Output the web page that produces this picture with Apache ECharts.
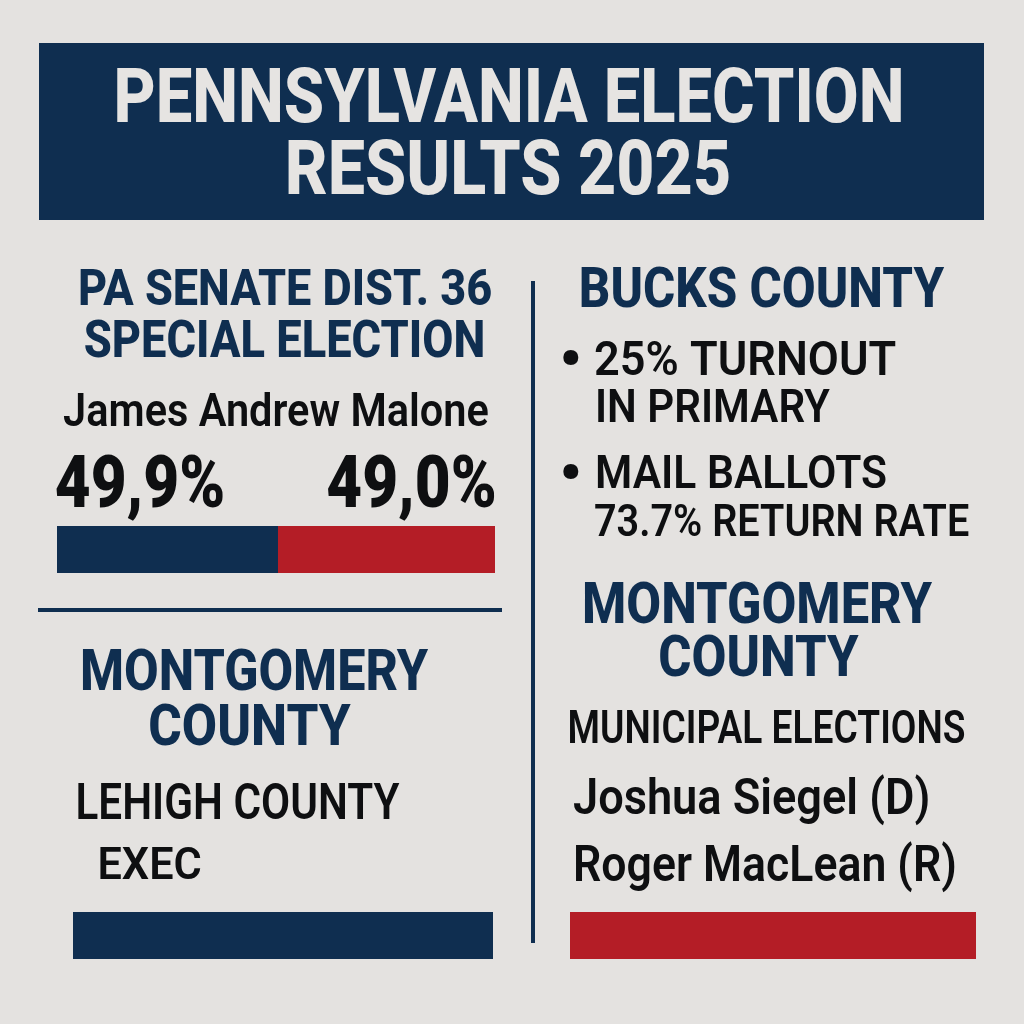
<!DOCTYPE html>
<html>
<head>
<meta charset="utf-8">
<title>Pennsylvania Election Results 2025</title>
<style>
html, body { margin: 0; padding: 0; background: #e4e2e0; }
#main { width: 1024px; height: 1024px; }
</style>
<script src="https://cdn.jsdelivr.net/npm/echarts@6/dist/echarts.min.js"></script>
</head>
<body>
<div id="main"></div>
<script>
var navy = '#0f2e50';
var red = '#b41d26';
var ink = '#0e0f11';
var paper = '#e6e4e2';
var FONT = 'Roboto';

// senate race split
var senateCandidates = ['Malone', 'Opponent'];
var senateValues = [49.9, 49.0];
var senateLabels = ['49,9%', '49,0%'];
// the two solid bars at the bottom
var lehighValue = [100];
var municipalValue = [100];

var titleLines = ['PENNSYLVANIA ELECTION', 'RESULTS 2025'];
var senateHead = ['PA SENATE DIST. 36', 'SPECIAL ELECTION'];
var countyHead = ['MONTGOMERY', 'COUNTY'];
var bucksHead = 'BUCKS COUNTY';
var bucksLines = ['25% TURNOUT', 'IN PRIMARY', 'MAIL BALLOTS', '73.7% RETURN RATE'];
var lehighLines = ['LEHIGH COUNTY', 'EXEC'];
var municipalHead = 'MUNICIPAL ELECTIONS';
var municipalNames = ['Joshua Siegel (D)', 'Roger MacLean (R)'];

// y is the middle of the capitals, sx squeezes the text to the narrower look of the original
function txt(str, x, y, size, sx, color, align, weight) {
    return {
        type: 'text',
        x: x,
        y: y + size * 0.09,
        scaleX: sx,
        z: 10,
        style: {
            text: str,
            fill: color,
            font: (weight || 800) + ' ' + size + 'px ' + FONT,
            textAlign: align || 'left',
            textVerticalAlign: 'middle'
        }
    };
}

function box(x, y, w, h, color) {
    return { type: 'rect', shape: { x: x, y: y, width: w, height: h }, style: { fill: color }, z: 1 };
}

var chartDom = document.getElementById('main');
var myChart = echarts.init(chartDom);
var option;

function barAxis(i, max) {
    return {
        gridIndex: i, type: 'value', min: 0, max: max,
        show: false, splitLine: { show: false }
    };
}
function catAxis(i) {
    return { gridIndex: i, type: 'category', data: ['share'], show: false };
}

option = {
    animation: false,
    backgroundColor: '#e4e2e0',
    grid: [
        { left: 57, top: 526, width: 438, height: 47 },
        { left: 73, top: 912, width: 420, height: 47 },
        { left: 570, top: 912, width: 406, height: 47 }
    ],
    xAxis: [barAxis(0, senateValues[0] + senateValues[1]), barAxis(1, 100), barAxis(2, 100)],
    yAxis: [catAxis(0), catAxis(1), catAxis(2)],
    series: [
        { name: senateCandidates[0], type: 'bar', stack: 'senate', barWidth: '100%', xAxisIndex: 0, yAxisIndex: 0, itemStyle: { color: navy }, data: [senateValues[0]] },
        { name: senateCandidates[1], type: 'bar', stack: 'senate', barWidth: '100%', xAxisIndex: 0, yAxisIndex: 0, itemStyle: { color: red }, data: [senateValues[1]] },
        { name: 'Lehigh County Exec', type: 'bar', barWidth: '100%', xAxisIndex: 1, yAxisIndex: 1, itemStyle: { color: navy }, data: lehighValue },
        { name: 'Municipal Elections', type: 'bar', barWidth: '100%', xAxisIndex: 2, yAxisIndex: 2, itemStyle: { color: red }, data: municipalValue }
    ],
    graphic: [
        box(39, 43, 945, 177, navy),
        box(38, 608, 464, 4, navy),
        box(531, 281, 4, 662, navy),
        txt(titleLines[0], 509, 96, 76, 0.856, paper, 'center'),
        txt(titleLines[1], 508, 168, 76, 0.874, paper, 'center'),
        txt(senateHead[0], 285, 288, 50, 0.90, navy, 'center'),
        txt(senateHead[1], 284.5, 340, 51, 0.887, navy, 'center'),
        txt('James Andrew Malone', 276, 410, 46, 0.903, ink, 'center', 600),
        txt(senateLabels[0], 140, 483, 72, 0.86, ink, 'center', 900),
        txt(senateLabels[1], 411.5, 483, 72, 0.86, ink, 'center', 900),
        txt(countyHead[0], 254, 670, 58, 0.867, navy, 'center'),
        txt(countyHead[1], 249.5, 725, 58, 0.883, navy, 'center'),
        txt(lehighLines[0], 75.5, 802, 50, 0.845, ink, 'left', 600),
        txt(lehighLines[1], 97.5, 864, 45, 0.96, ink, 'left', 600),
        txt(bucksHead, 761.5, 288, 55, 0.895, navy, 'center'),
        txt('•', 570.5, 359, 62, 1, ink, 'center'),
        txt(bucksLines[0], 594, 358, 49, 0.92, ink, 'left', 600),
        txt(bucksLines[1], 595, 406, 47, 0.895, ink, 'left', 600),
        txt('•', 570.5, 473, 62, 1, ink, 'center'),
        txt(bucksLines[2], 595, 472, 47, 0.906, ink, 'left', 600),
        txt(bucksLines[3], 594, 521, 45, 0.88, ink, 'left', 600),
        txt(countyHead[0], 757, 603, 58, 0.872, navy, 'center'),
        txt(countyHead[1], 758.5, 656, 58, 0.874, navy, 'center'),
        txt(municipalHead, 766.5, 727, 46, 0.808, ink, 'center', 600),
        txt(municipalNames[0], 573, 797, 50, 0.903, ink, 'left', 600),
        txt(municipalNames[1], 573, 864, 50, 0.892, ink, 'left', 600)
    ]
};

option && myChart.setOption(option);
</script>
</body>
</html>
